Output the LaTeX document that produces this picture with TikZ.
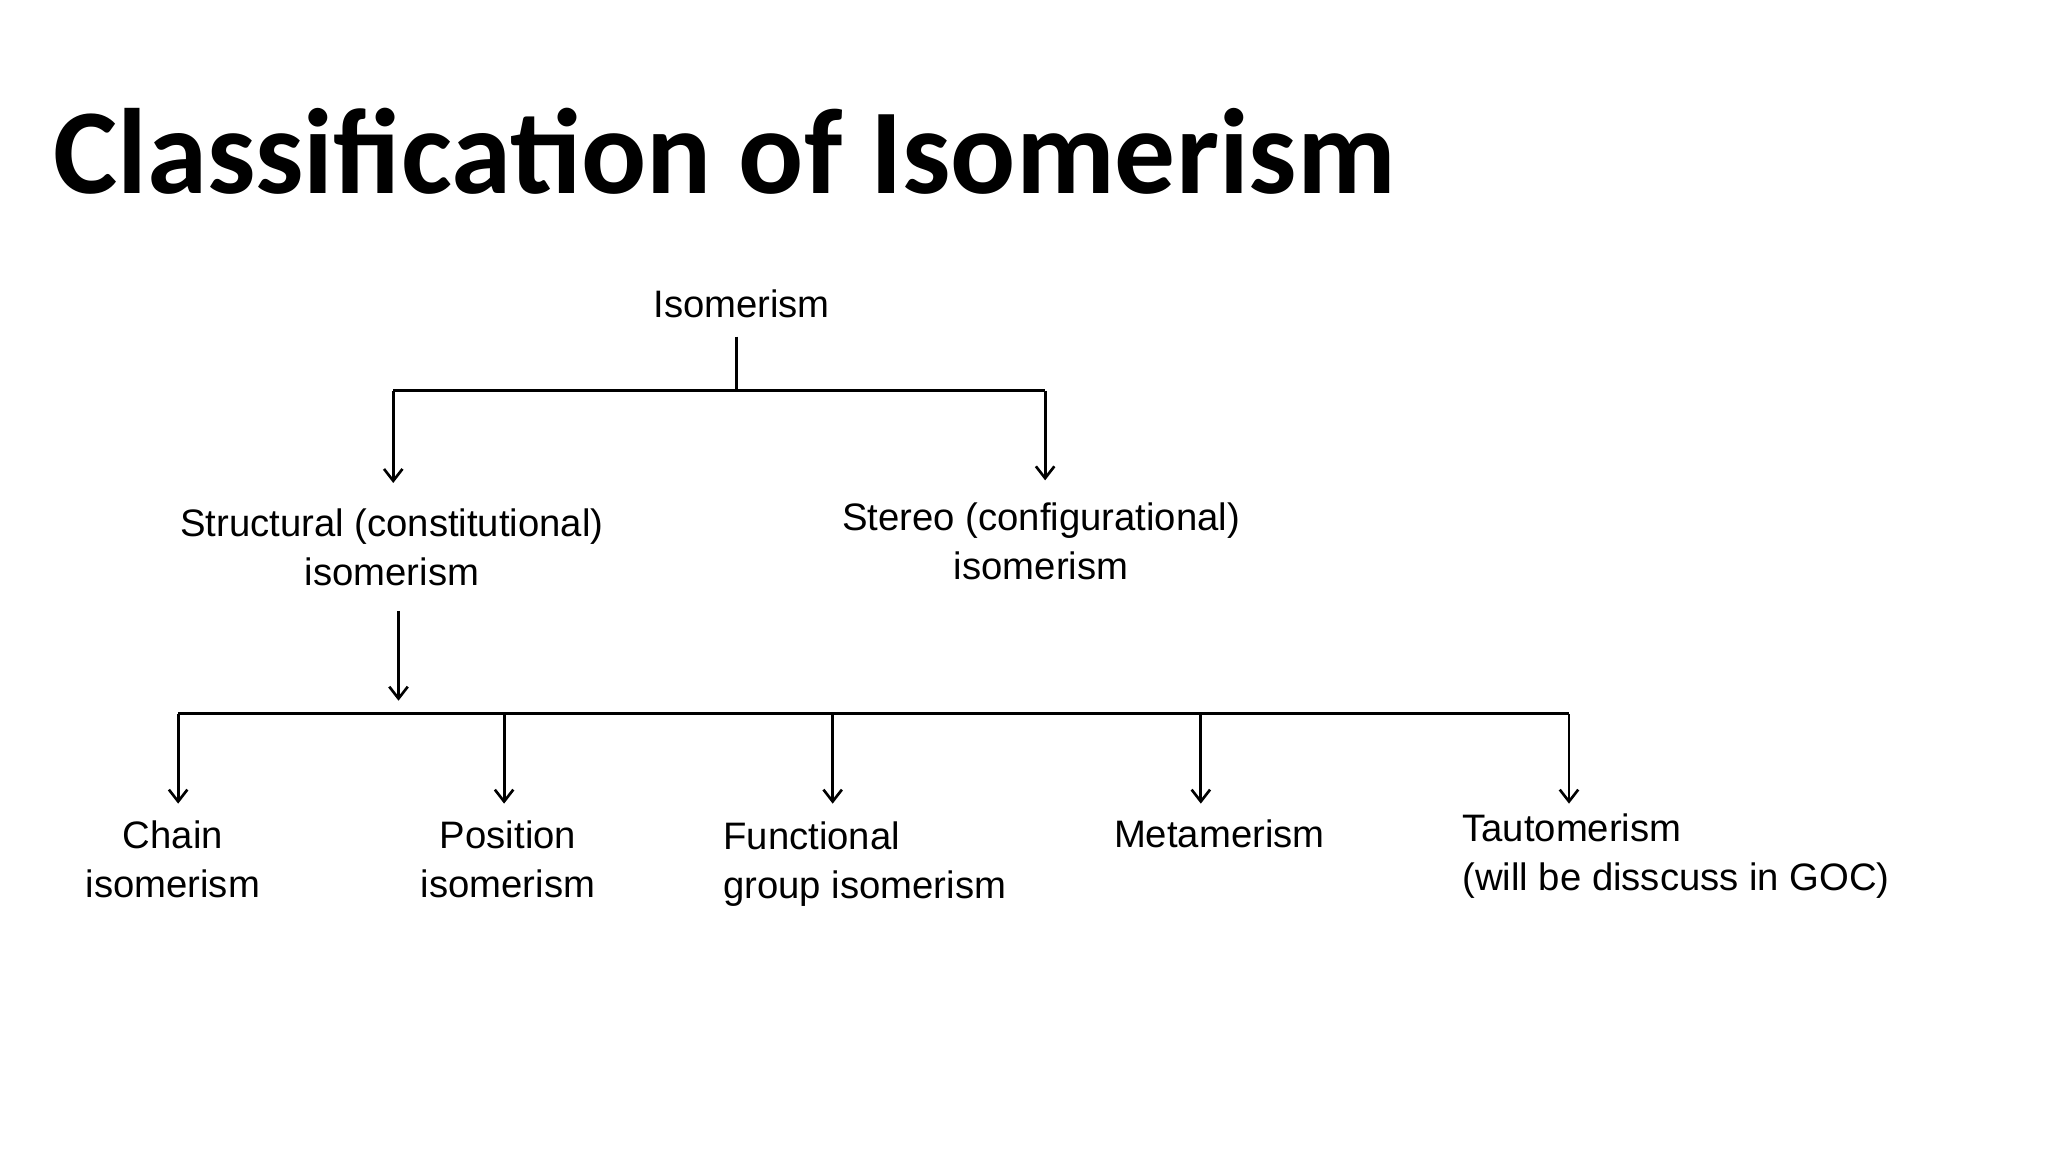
\documentclass[tikz,border=0pt]{standalone}
\usepackage{fontspec}
\setmainfont{Liberation Sans}
\newfontfamily\titlefont{Carlito}
\usetikzlibrary{arrows.meta}
\begin{document}
\begin{tikzpicture}[x=1pt,y=-1pt,
  lbl/.style={font=\fontsize{29}{37}\selectfont, inner sep=0pt, align=center},
  con/.style={line width=2.2pt},
  arr/.style={con,-{Straight Barb[length=9pt,width=14pt,line width=2pt]}}]
\useasboundingbox[fill=white] (0,0) rectangle (1552,873);
\node[anchor=base west, inner sep=0pt, font=\titlefont\bfseries\fontsize{92}{100}\selectfont] (title) at (40,147) {Classification of Isomerism};
\node[lbl] (iso) at (562,230) {Isomerism};
\coordinate (j0) at (558,296);
\coordinate (jl) at (298,296);
\coordinate (jr) at (792,296);
\coordinate (al) at (298,366);
\coordinate (ar) at (792,364);
\draw[con] (558,255) -- (j0);
\draw[con] (jl) -- (jr);
\draw[arr] (jl) -- (al);
\draw[arr] (jr) -- (ar);
\node[lbl] (struct) at (297,415) {Structural (constitutional)\\isomerism};
\node[lbl] (stereo) at (789,410) {Stereo (configurational)\\isomerism};
\coordinate (s1) at (302,463);
\coordinate (s2) at (302,531);
\draw[arr] (s1) -- (s2);
\coordinate (b1) at (135,541);
\coordinate (b5) at (1189,541);
\draw[con] (b1) -- (b5);
\foreach \x/\n in {135/c1,382/c2,631/c3,910/c4,1189/c5}{
  \coordinate (\n t) at (\x,541);
  \coordinate (\n b) at (\x,609);
  \draw[arr] (\n t) -- (\n b);
}
\node[lbl] (chain) at (131,651) {Chain\\isomerism};
\node[lbl] (pos) at (385,651) {Position\\isomerism};
\node[lbl, align=left, anchor=west] (func) at (548,655) {Functional\\group isomerism};
\node[lbl] (meta) at (924,632) {Metamerism};
\node[lbl, align=left, anchor=west] (taut) at (1108,649) {Tautomerism\\(will be disscuss in GOC)};
\end{tikzpicture}
\end{document}
